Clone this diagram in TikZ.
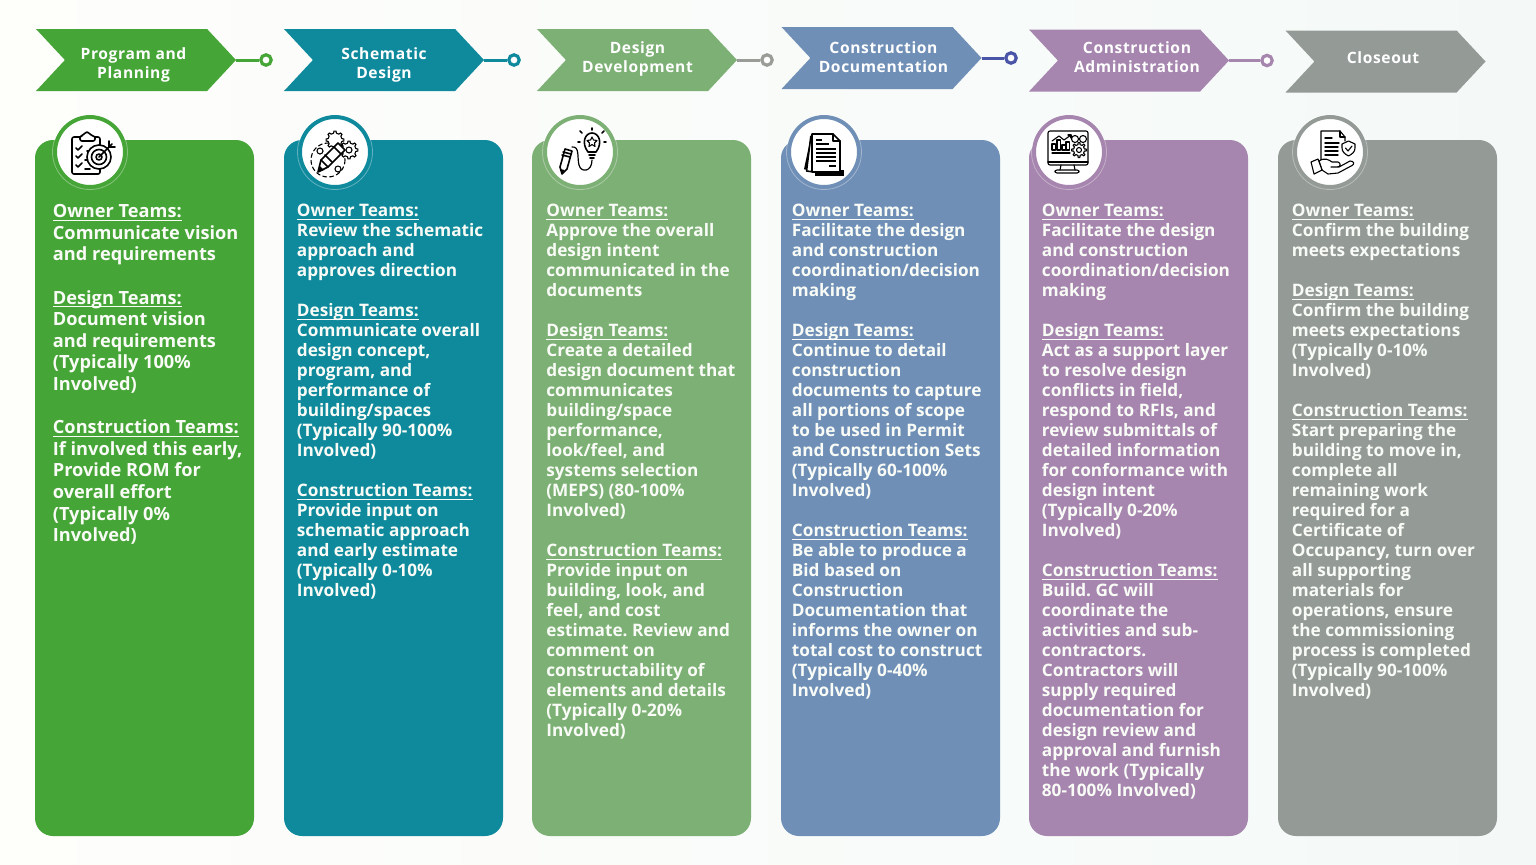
\documentclass[tikz,border=0pt]{standalone}
\usepackage{fontspec}
\setmainfont{Open Sans}
\newfontfamily\bannerfont{Open Sans}[LetterSpace=4]
\usetikzlibrary{shapes.symbols,positioning,calc}

\definecolor{pgreen}{HTML}{46A537}
\definecolor{pteal}{HTML}{0F8A9D}
\definecolor{psage}{HTML}{7DB075}
\definecolor{pblue}{HTML}{6F8FB7}
\definecolor{ppurple}{HTML}{A685AE}
\definecolor{pgray}{HTML}{949A96}
\definecolor{pindigo}{HTML}{4A55A8}
\definecolor{pstem}{HTML}{9A9C98}
\definecolor{pinklet}{HTML}{F9FCF6}
\definecolor{pageleft}{HTML}{FEFEFB}
\definecolor{pageright}{HTML}{F4F9F8}

\tikzset{
  banner/.style={signal,signal to=east,signal from=west,signal pointer angle=94,
    minimum width=100pt,minimum height=31pt,inner sep=0pt,outer sep=0pt},
  bantext/.style={inner sep=0pt,text=white,align=center,
    font=\bannerfont\bfseries\fontsize{7.8}{9.6}\selectfont},
  card/.style={rounded corners=9pt,minimum width=109.5pt,minimum height=348pt,
    inner sep=0pt,outer sep=0pt,anchor=north west},
  stem/.style={line width=1.5pt},
  ring/.style={circle,draw,fill=white,line width=1.6pt,minimum size=5.2pt,inner sep=0pt},
  badge/.style={circle,fill=white,line width=2pt,minimum size=35pt,inner sep=0pt},
  halo/.style={circle,draw=white,opacity=.35,line width=.4pt,minimum size=37.5pt,inner sep=0pt},
  bodytext/.style={anchor=north west,inner sep=0pt,align=left,text=pinklet,
    font=\bfseries\frenchspacing\fontsize{8.6}{10}\selectfont},
  firsttext/.style={bodytext,font=\bfseries\frenchspacing\fontsize{9.1}{10.8}\selectfont},
  icon/.style={line width=.8pt,line join=round,line cap=round,black},
  thinicon/.style={line width=.55pt,line join=round,line cap=round,black},
}
% heading with its rule at a fixed distance under the baseline
\newcommand{\hd}[1]{\setbox0\hbox{#1}\rlap{\rule[-1.5pt]{\wd0}{.5pt}}\box0}
% gear outline: centre x, centre y, radius
\newcommand{\gearshape}[3]{\draw[fill=white] ([shift={(#1,#2)}]-11:{#3-2})
  \foreach \a in {0,45,...,315} {-- ([shift={(#1,#2)}]\a-11:{#3-2}) -- ([shift={(#1,#2)}]\a-7:#3)
    -- ([shift={(#1,#2)}]\a+7:#3) -- ([shift={(#1,#2)}]\a+11:{#3-2})} -- cycle;}

\begin{document}
\begin{tikzpicture}[x=.5pt,y=-.5pt]
  % page
  \path[left color=pageleft,right color=pageright] (0,0) rectangle (1536,864);

  % phase banners
  \node[banner,fill=pgreen] (ban1) at (136,60) {};
  \node[banner,fill=pteal] (ban2) at (384,60) {};
  \node[banner,fill=psage] (ban3) at (637,60) {};
  \node[banner,fill=pblue] (ban4) at (881.5,58) {};
  \node[banner,fill=ppurple] (ban5) at (1129,60.5) {};
  \node[banner,fill=pgray] (ban6) at (1385.5,61.5) {};
  \node[bantext] (lab1) at (133.5,65) {Program and\\Planning};
  \node[bantext] (lab2) at (384,65) {Schematic\\Design};
  \node[bantext] (lab3) at (637.5,59) {Design\\Development};
  \node[bantext] (lab4) at (883.5,57) {Construction\\Documentation};
  \node[bantext] (lab5) at (1137,57) {Construction\\Administration};
  \node[bantext] (lab6) at (1383,57.5) {Closeout};

  % rings at the end of the banners
  \node[ring,draw=pgreen] (ring1) at (266,60) {};
  \node[ring,draw=pteal] (ring2) at (514,60) {};
  \node[ring,draw=pstem] (ring3) at (767,60) {};
  \node[ring,draw=pindigo] (ring4) at (1011,58) {};
  \node[ring,draw=ppurple] (ring5) at (1267,60.5) {};
  \draw[stem,pgreen] (ban1.east) -- (ring1);
  \draw[stem,pteal] (ban2.east) -- (ring2);
  \draw[stem,pstem] (ban3.east) -- (ring3);
  \draw[stem,pindigo] (ban4.east) -- (ring4);
  \draw[stem,ppurple] (ban5.east) -- (ring5);

  % cards
  \node[card,fill=pgreen] (card1) at (35,140) {};
  \node[card,fill=pteal] (card2) at (284,140) {};
  \node[card,fill=psage] (card3) at (532,140) {};
  \node[card,fill=pblue] (card4) at (781,140) {};
  \node[card,fill=ppurple] (card5) at (1029,140) {};
  \node[card,fill=pgray] (card6) at (1278,140) {};

  % badges
  \node[badge,draw=pgreen] (bad1) at (90,152) {};
  \node[badge,draw=pteal] (bad2) at (335,152) {};
  \node[badge,draw=psage] (bad3) at (580,152) {};
  \node[badge,draw=pblue] (bad4) at (824,152) {};
  \node[badge,draw=ppurple] (bad5) at (1069,152) {};
  \node[badge,draw=pgray] (bad6) at (1330,152) {};
  \foreach \i in {1,...,6} \node[halo] at (bad\i) {};

  % clipboard and target
  \begin{scope}[shift={(bad1)},icon]
    \draw[rounded corners=1pt] (-10,-15) -- (-18,-15) -- (-18,22) -- (10,22) -- (10,16);
    \draw[rounded corners=1pt] (5,-15) -- (10,-15) -- (10,-6);
    \draw[rounded corners=1pt] (-10,-11) -- (-10,-16) -- (-7,-16) -- (-5,-20) -- (-1,-20) -- (1,-16) -- (5,-16) -- (5,-11) -- cycle;
    \foreach \yy in {-4,4,13} \draw (-14,\yy) -- (-12,{\yy+2}) -- (-8,{\yy-2});
    \draw (-3,-1) -- (0,-1) (-5,8) -- (-2,8) (-5,17) -- (0,17);
    \draw[fill=white] (9,5) circle[radius=12];
    \draw (9,5) circle[radius=7.5];
    \draw (9,5) circle[radius=3];
    \draw (9,5) -- (22,-8);
    \draw (19,-11) -- (19,-5) -- (25,-5);
  \end{scope}

  % gears and pencil
  \begin{scope}[shift={(bad2)},thinicon]
    \draw[dash pattern=on 2pt off 1.5pt] (-7,8) circle[radius=17];
    \gearshape{0}{-12}{9}
    \gearshape{14}{-2}{9}
    \draw (14,-2) circle[radius=3];
    \draw[fill=white] (-15,-1) circle[radius=3];
    \draw[fill=white] (3,17) circle[radius=3];
    \begin{scope}[icon]
      \draw[fill=white] (-17,20) -- (-14,8) -- (3,-9) -- (10,-2) -- (-7,15) -- cycle;
      \draw (-1,-5) -- (6,2) (-14,8) -- (-7,15);
      \draw (-10,3) -- (-3,10);
      \fill (-17,20) -- (-15,14) -- (-11,18) -- cycle;
    \end{scope}
  \end{scope}

  % pencil and light bulb
  \begin{scope}[shift={(bad3)},icon]
    \draw[fill=white] (-18,22) -- (-20,15) -- (-15,-3) -- (-8,-1) -- (-13,17) -- cycle;
    \draw (-18,3) -- (-10,5) (-17,0) -- (-9,2);
    \fill (-18,22) -- (-19.5,17) -- (-15.5,18) -- cycle;
    \draw[line width=.6pt] (-8,-5) .. controls (0,-6) and (-3,6) .. (-1,13)
      .. controls (1,21) and (12,20) .. (12,8);
    \draw (8,0) .. controls (1,-9) and (5,-19) .. (12,-19)
      .. controls (19,-19) and (23,-9) .. (16,0) -- cycle;
    \draw (9,3) -- (15,3) (10,6) -- (14,6);
    \draw[thinicon] (12,-15) -- (13.5,-12) -- (17,-11.5) -- (14.5,-9) -- (15,-5.5) -- (12,-7.5) -- (9,-5.5) -- (9.5,-9) -- (7,-11.5) -- (10.5,-12) -- cycle;
    \draw (12,-22) -- (12,-24) (2,-19) -- (0,-21) (22,-19) -- (24,-21) (0,-10) -- (-2,-10) (24,-10) -- (26,-10);
  \end{scope}

  % stack of documents
  \begin{scope}[shift={(bad4)},icon]
    \fill[rotate=-12] (-16,-13) rectangle (10,21);
    \draw[fill=white,rotate=-7] (-15,-14) rectangle (11,21);
    \fill (-9,18) rectangle (20,24);
    \draw[fill=white] (-12,-18) -- (9,-18) -- (16,-11) -- (16,20) -- (-12,20) -- cycle;
    \draw (9,-18) -- (9,-11) -- (16,-11);
    \draw[line width=1pt,line cap=butt] (-8,-12) -- (-2,-12) (-8,-8) -- (5,-8) (-8,-3) -- (12,-3)
      (-8,1) -- (12,1) (-8,5) -- (12,5) (-8,9) -- (12,9) (5,14) -- (12,14);
  \end{scope}

  % monitor with charts
  \begin{scope}[shift={(bad5)},thinicon]
    \draw[rounded corners=1pt] (-21,-21) rectangle (19,13);
    \draw (-21,10) -- (19,10);
    \draw (-8,13) -- (-9,18) (5,13) -- (6,18);
    \draw[rounded corners=1pt] (-14,18) rectangle (10,21);
    \foreach \xa/\ya in {-17/-8,-12/-12,-7/-7,-3/-10} \draw (\xa,-2) rectangle ({\xa+3.5},\ya);
    \draw (-17,1) -- (1,1);
    \draw (-17,-11) -- (-10,-16) -- (-5,-12) -- (2,-17);
    \draw (-1,-17) -- (2,-17) -- (2,-14);
    \draw (6,-13) circle[radius=3.5] (14,-13) circle[radius=3.5];
    \gearshape{10}{-2}{7.5}
    \draw (10,-2) circle[radius=2.5];
  \end{scope}

  % document on a hand with shield
  \begin{scope}[shift={(bad6)},thinicon]
    \draw (-9,10) -- (-9,-21) -- (10,-21) -- (15,-15) -- (15,-11);
    \draw (10,-21) -- (10,-15) -- (15,-15);
    \draw[line width=.7pt] (-5,-14) -- (2,-14) (-5,-9) -- (9,-9) (-5,-5) -- (8,-5) (-5,-1) -- (8,-1) (-5,3) -- (8,3);
    \draw[fill=white] (18.5,-11) -- (25,-8) -- (25,-4) .. controls (25,0) and (22,2) .. (18.5,4)
      .. controls (15,2) and (12,0) .. (12,-4) -- (12,-8) -- cycle;
    \draw (15.5,-4) -- (18,-1) -- (22,-6);
    \draw[fill=white] (-11,9) .. controls (-5,5) and (-1,8) .. (2,10) -- (8,10)
      .. controls (11,11) and (11,15) .. (7,15) -- (1,15) -- (9,15) -- (20,9)
      .. controls (24,9) and (25,12) .. (22,13.5) -- (8,21) -- (-2,22) -- (-8,18) -- cycle;
    \draw[fill=white] (-19,10) -- (-12,7) -- (-8,18) -- (-16,22) -- cycle;
  \end{scope}

  % card texts
  \node[firsttext] (txt1) at (52.5,204) {\hd{Owner Teams:}\\
    Communicate vision\\ and requirements\\[10.8pt]
    \hd{Design Teams:}\\ Document vision\\ and requirements\\ (Typically 100\%\\ Involved)\\[10.8pt]
    \hd{Construction Teams:}\\ If involved this early,\\ Provide ROM for\\ overall effort\\ (Typically 0\%\\ Involved)};
  \node[bodytext] (txt2) at (296.5,204) {\hd{Owner Teams:}\\
    Review the schematic\\ approach and\\ approves direction\\[10pt]
    \hd{Design Teams:}\\ Communicate overall\\ design concept,\\ program, and\\ performance of\\ building/spaces\\ (Typically 90-100\%\\ Involved)\\[10pt]
    \hd{Construction Teams:}\\ Provide input on\\ schematic approach\\ and early estimate\\ (Typically 0-10\%\\ Involved)};
  \node[bodytext] (txt3) at (546,204) {\hd{Owner Teams:}\\
    Approve the overall\\ design intent\\ communicated in the\\ documents\\[10pt]
    \hd{Design Teams:}\\ Create a detailed\\ design document that\\ communicates\\ building/space\\ performance,\\ look/feel, and\\ systems selection\\ (MEPS) (80-100\%\\ Involved)\\[10pt]
    \hd{Construction Teams:}\\ Provide input on\\ building, look, and\\ feel, and cost\\ estimate. Review and\\ comment on\\ constructability of\\ elements and details\\ (Typically 0-20\%\\ Involved)};
  \node[bodytext] (txt4) at (791.5,204) {\hd{Owner Teams:}\\
    Facilitate the design\\ and construction\\ coordination/decision\\ making\\[10pt]
    \hd{Design Teams:}\\ Continue to detail\\ construction\\ documents to capture\\ all portions of scope\\ to be used in Permit\\ and Construction Sets\\ (Typically 60-100\%\\ Involved)\\[10pt]
    \hd{Construction Teams:}\\ Be able to produce a\\ Bid based on\\ Construction\\ Documentation that\\ informs the owner on\\ total cost to construct\\ (Typically 0-40\%\\ Involved)};
  \node[bodytext] (txt5) at (1041.5,204) {\hd{Owner Teams:}\\
    Facilitate the design\\ and construction\\ coordination/decision\\ making\\[10pt]
    \hd{Design Teams:}\\ Act as a support layer\\ to resolve design\\ conflicts in field,\\ respond to RFIs, and\\ review submittals of\\ detailed information\\ for conformance with\\ design intent\\ (Typically 0-20\%\\ Involved)\\[10pt]
    \hd{Construction Teams:}\\ Build. GC will\\ coordinate the\\ activities and sub-\\ contractors.\\ Contractors will\\ supply required\\ documentation for\\ design review and\\ approval and furnish\\ the work (Typically\\ 80-100\% Involved)};
  \node[bodytext] (txt6) at (1291.5,204) {\hd{Owner Teams:}\\
    Confirm the building\\ meets expectations\\[10pt]
    \hd{Design Teams:}\\ Confirm the building\\ meets expectations\\ (Typically 0-10\%\\ Involved)\\[10pt]
    \hd{Construction Teams:}\\ Start preparing the\\ building to move in,\\ complete all\\ remaining work\\ required for a\\ Certificate of\\ Occupancy, turn over\\ all supporting\\ materials for\\ operations, ensure\\ the commissioning\\ process is completed\\ (Typically 90-100\%\\ Involved)};
  \useasboundingbox (0,0) rectangle (1536,864);
\end{tikzpicture}
\end{document}
